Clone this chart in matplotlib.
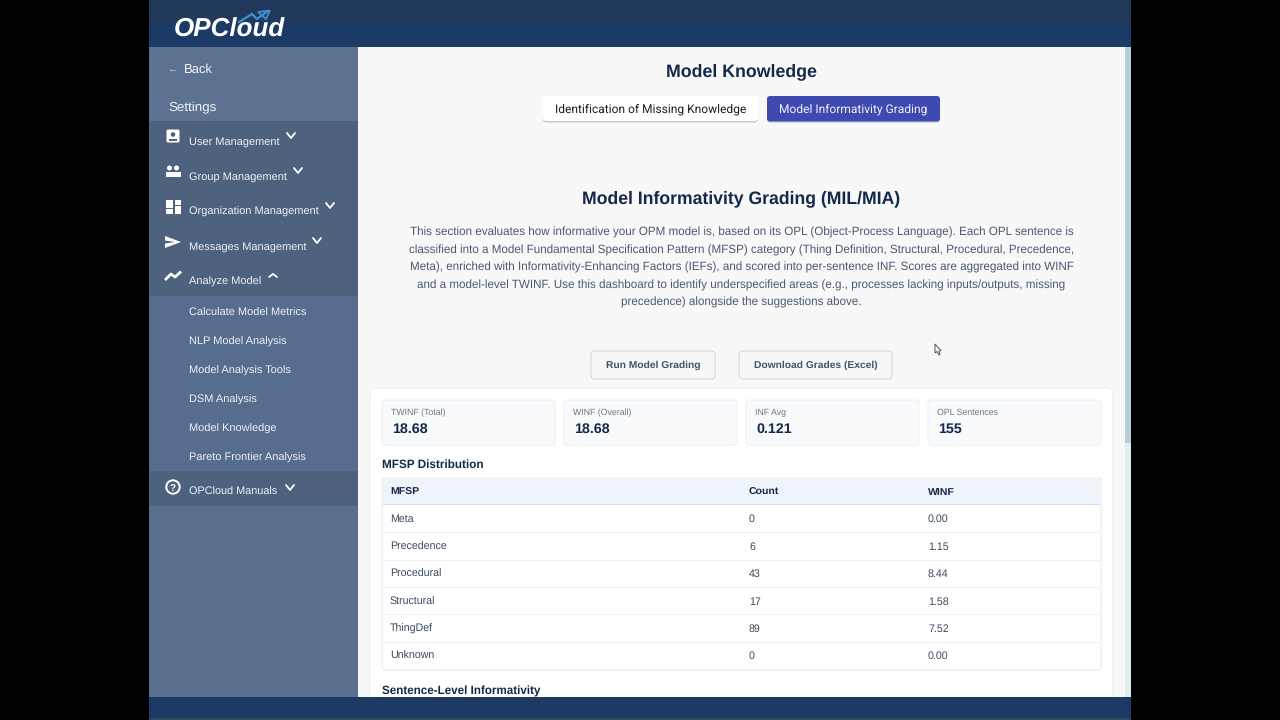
import matplotlib
matplotlib.use("Agg")
import matplotlib.pyplot as plt
from matplotlib.patches import Rectangle, FancyBboxPatch, Circle, Polygon

plt.rcParams["text.hinting"] = "no_hinting"
plt.rcParams["text.hinting_factor"] = 8

# ---------- content ----------
menu_items = ["User Management", "Group Management", "Organization Management", "Messages Management", "Analyze Model"]
menu_y = [141, 176, 211, 246, 281]
menu_chevron_x = [291, 298, 330, 317, 273]
sub_items = ["Calculate Model Metrics", "NLP Model Analysis", "Model Analysis Tools", "DSM Analysis",
             "Model Knowledge", "Pareto Frontier Analysis"]
sub_y = [311, 340, 369, 398, 427, 456]
paragraph = [
    "This section evaluates how informative your OPM model is, based on its OPL (Object-Process Language). Each OPL sentence is",
    "classified into a Model Fundamental Specification Pattern (MFSP) category (Thing Definition, Structural, Procedural, Precedence,",
    "Meta), enriched with Informativity-Enhancing Factors (IEFs), and scored into per-sentence INF. Scores are aggregated into WINF",
    "and a model-level TWINF. Use this dashboard to identify underspecified areas (e.g., processes lacking inputs/outputs, missing",
    "precedence) alongside the suggestions above.",
]
card_labels = ["TWINF (Total)", "WINF (Overall)", "INF Avg", "OPL Sentences"]
card_values = ["18.68", "18.68", "0.121", "155"]
mfsp = ["Meta", "Precedence", "Procedural", "Structural", "ThingDef", "Unknown"]
counts = [0, 6, 43, 17, 89, 0]
winf = [0.00, 1.15, 8.44, 1.58, 7.52, 0.00]

NAVY = "#1c3a63"
INK = "#14294a"
SANS = "Liberation Sans"

fig = plt.figure(figsize=(12.8, 7.2), dpi=100, facecolor="black")
ax = fig.add_axes([0, 0, 1, 1])
ax.set_xlim(0, 1280)
ax.set_ylim(720, 0)
ax.axis("off")


def rect(x, y, w, h, c, z=1, **kw):
    ax.add_patch(Rectangle((x, y), w, h, facecolor=c, edgecolor="none", zorder=z, **kw))


def rrect(x, y, w, h, fc, ec="none", r=3, z=2, lw=0.72):
    ax.add_patch(FancyBboxPatch((x + r, y + r), w - 2 * r, h - 2 * r, boxstyle=f"round,pad={r},rounding_size={r}",
                                facecolor=fc, edgecolor=ec, linewidth=lw, zorder=z))


def txt(x, y, s, px, c="#ffffff", w="normal", ha="left", fam=SANS, z=6, **kw):
    return ax.text(x, y + px * 0.36, s, fontsize=px * 0.72, color=c, fontweight=w, ha=ha, va="baseline",
                   family=fam, zorder=z, **kw)


def chevron(x, y, up=False, c="#ffffff"):
    d = -3 if up else 3
    ax.plot([x - 4, x, x + 4], [y - d / 1.5, y + d / 1.5 + 1, y - d / 1.5], color=c, lw=1.3, zorder=6,
            solid_capstyle="round")


# ---------- frame ----------
rect(149, 0, 982, 720, "#f8f8f9", 0)
ax.imshow([[0.0], [1.0]], extent=(149, 1131, 47, 0), aspect="auto", zorder=1,
          cmap=matplotlib.colors.LinearSegmentedColormap.from_list("h", ["#21395b", "#1b3a65"]))
ax.set_xlim(0, 1280)
ax.set_ylim(720, 0)
rect(149, 697, 982, 23, NAVY, 5)
rect(149, 718, 982, 2, "#33465f", 5)

# ---------- logo ----------
txt(174, 27.5, "OPCloud", 26, "#ffffff", "bold", style="italic")
ax.plot([239, 252, 257, 268], [22, 14, 19, 11], color="#3f8fd0", lw=1.6, zorder=7)
ax.add_patch(Polygon([[258, 12], [270, 10.5], [266, 19]], closed=True, facecolor="none", edgecolor="#3f8fd0",
                     lw=1.3, zorder=7))

# ---------- sidebar ----------
rect(149, 47, 209, 650, "#5b708e", 1)
rect(149, 47, 209, 74, "#5d7290", 1)
rect(149, 121, 209, 175, "#4f627d", 2)
rect(149, 296, 209, 175, "#566d8d", 2)
rect(149, 471, 209, 35, "#4f627d", 2)
txt(168, 68.5, "←", 10, "#e6ebf1")
txt(184, 68.5, "Back", 13, "#f3f5f8")
txt(168.5, 106.4, "Settings", 13.4, "#f3f5f8")
for s, y, cx in zip(menu_items, menu_y, menu_chevron_x):
    txt(189, y - 0.3, s, 10.95, "#eef1f5")
    chevron(cx, y - 6, up=(s == "Analyze Model"))
for s, y in zip(sub_items, sub_y):
    txt(189, y + 0.6, s, 11, "#eef1f5")
txt(189, 490.8, "OPCloud Manuals", 10.85, "#eef1f5")
chevron(290, 487)
# icons
W = "#ffffff"
ax.add_patch(FancyBboxPatch((167, 130), 12, 12, boxstyle="round,pad=0.5,rounding_size=1.5", facecolor=W,
                            edgecolor="none", zorder=6))
ax.add_patch(Circle((173, 134.5), 2.3, facecolor="#4f627d", zorder=7))
ax.add_patch(Rectangle((169, 138.5), 8, 2, facecolor="#4f627d", zorder=7))
for cx, cy, r in [(169.5, 168, 2.5), (176.5, 168, 2.5)]:
    ax.add_patch(Circle((cx, cy), r, facecolor=W, zorder=6))
rect(165.5, 172, 15.5, 4.5, W, 6)
rect(166, 200, 7, 8, W, 6)
rect(174.5, 200, 6, 4.5, W, 6)
rect(174.5, 205.5, 6, 8, W, 6)
rect(166, 209, 7, 4.5, W, 6)
ax.add_patch(Polygon([[165, 236], [181, 242], [165, 248], [165, 243.5], [175, 242], [165, 240.5]], facecolor=W, zorder=6))
ax.plot([166, 171, 175, 180], [279, 274, 277, 272.5], color=W, lw=2, zorder=6)
ax.add_patch(Circle((173, 487), 6.7, facecolor="none", edgecolor=W, lw=1.4, zorder=6))
txt(173, 487, "?", 10, W, "bold", ha="center")

# ---------- header of content ----------
txt(741.5, 69.8, "Model Knowledge", 17.8, INK, "bold", ha="center")
rrect(543, 97.5, 215, 25, "#c9c9cd", r=3, z=2)
rrect(543, 96, 215, 25, "#ffffff", r=3, z=3)
txt(650.5, 108.5, "Identification of Missing Knowledge", 12, "#1d1d22", ha="center", fam="Roboto")
rrect(767, 97.5, 173, 25, "#bfc2d8", r=3, z=2)
rrect(767, 96, 173, 25.5, "#3f4ab0", r=3, z=3)
txt(853, 108.5, "Model Informativity Grading", 12, "#eef0fa", ha="center", fam="Roboto")

txt(741.5, 196.8, "Model Informativity Grading (MIL/MIA)", 17.6, INK, "bold", ha="center")
for i, line in enumerate(paragraph):
    txt(741.5, 231.5 + i * 17.5, line, 11.6, "#4a5870", ha="center")

rrect(591, 351, 124, 28, "#f8f8f9", "#d2d5da", r=4)
txt(653, 364.5, "Run Model Grading", 10.3, "#41526b", "bold", ha="center")
rrect(739, 351, 153, 28, "#f8f8f9", "#d2d5da", r=4)
txt(815.5, 364.5, "Download Grades (Excel)", 10.3, "#41526b", "bold", ha="center")

# mouse cursor
ax.add_patch(Polygon([[935, 344], [935, 353], [937, 351.5], [939, 355], [940, 354.5], [939, 351], [941, 350.5]],
                     facecolor="#f5f5f5", edgecolor="#555555", lw=0.7, zorder=8))

# ---------- scrollbar ----------
rect(1125, 47, 6, 396, "#b6ccd6", 3)
rect(1125, 443, 6, 254, "#e6edf1", 3)

# ---------- panel ----------
rrect(370, 388, 743, 330, "#ffffff", "#eceef0", r=6, z=2)

# ---------- cards ----------
card_x = [382, 564, 746, 928]
for x, lab, val in zip(card_x, card_labels, card_values):
    rrect(x, 400, 173, 45, "#f8fafc", "#eaeef3", r=3, z=3)
    txt(x + 9, 412, lab, 8.8, "#6d7785")
    txt(x + 10.5, 428, val, 14.3, INK, "bold")

txt(382, 463.8, "MFSP Distribution", 11.7, INK, "bold")

# ---------- table ----------
rrect(382, 478, 719, 192, "#ffffff", "#e6e9ed", r=3, z=3)
rect(383, 478.5, 717, 26, "#eff4fa", 4)
rect(383, 504, 717, 1.2, "#d9dee5", 4)
col_x = [390, 749, 928]
for x, s in zip(col_x, ["MFSP", "Count", "WINF"]):
    txt(x, 491, s, 10.5, INK, "bold")
row_h = 27.4
for i, (m, c, v) in enumerate(zip(mfsp, counts, winf)):
    y = 518.5 + i * row_h
    txt(col_x[0], y, m, 10.6, "#3c4a5e")
    txt(col_x[1], y, str(c), 10.6, "#3c4a5e")
    txt(col_x[2], y, f"{v:.2f}", 10.6, "#3c4a5e")
    if i < len(mfsp) - 1:
        rect(383, y + 13.7, 717, 1, "#eef0f3", 4)

txt(382, 690.5, "Sentence-Level Informativity", 11.6, INK, "bold", z=3)

fig.savefig("out.png", dpi=100, facecolor="black")
